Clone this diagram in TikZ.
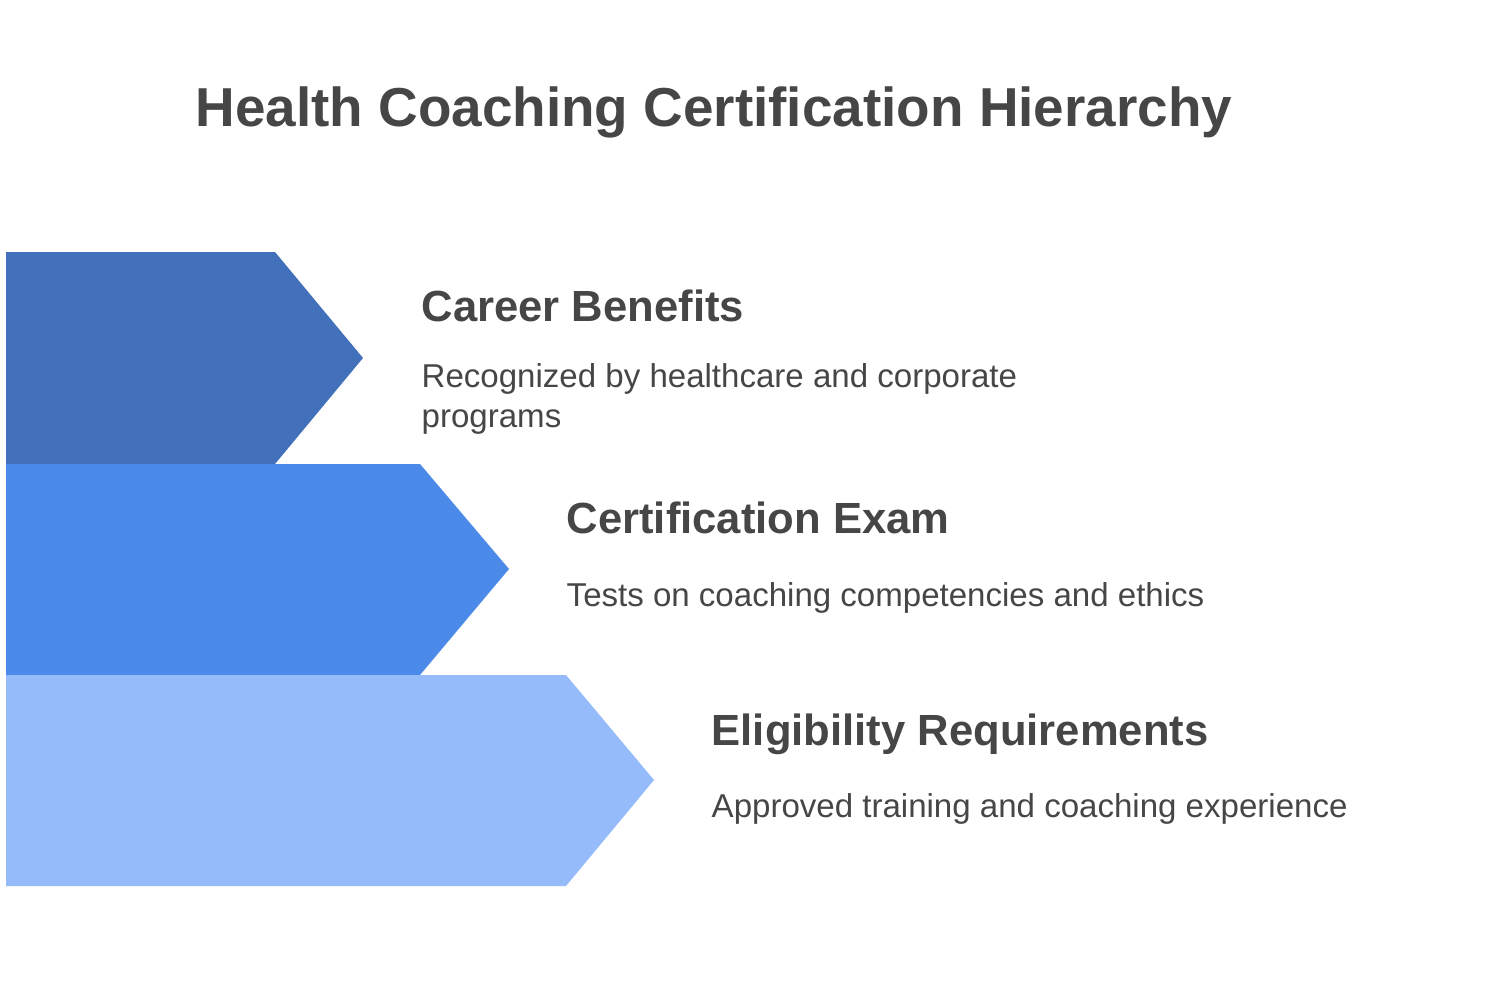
\documentclass[tikz,border=0pt]{standalone}
\usepackage{fontspec}
\setmainfont{Liberation Sans}
\definecolor{tierdark}{HTML}{4270BA}
\definecolor{tiermid}{HTML}{4B8AE8}
\definecolor{tierlight}{HTML}{95BBFB}
\definecolor{txtgray}{HTML}{464646}
\tikzset{
    heading/.style={anchor=base west, inner sep=0pt, text=txtgray, font=\fontsize{12.4}{15}\selectfont\bfseries},
    desc/.style={anchor=base west, inner sep=0pt, text=txtgray, align=left, font=\fontsize{9.4}{11.3}\selectfont},
}
\begin{document}
\begin{tikzpicture}[x=0.01cm, y=-0.01cm]
    \useasboundingbox (0,0) rectangle (1500,994);

    \fill[tierdark]  (6,252) -- (275,252) -- (363,358) -- (275,464) -- (6,464) -- cycle;
    \fill[tiermid]   (6,464) -- (420,464) -- (509,569) -- (420,675) -- (6,675) -- cycle;
    \fill[tierlight] (6,675) -- (566,675) -- (654,780) -- (566,886) -- (6,886) -- cycle;

    \node (title) at (195,127) [anchor=base west, inner sep=0pt, text=txtgray, font=\fontsize{15.6}{19}\selectfont\bfseries] {Health Coaching Certification Hierarchy};

    \node (benefits)     at (421,321) [heading] {Career Benefits};
    \node (benefitsdesc) at (421,427) [desc] {Recognized by healthcare and corporate\\programs};
    \node (exam)         at (566,533) [heading] {Certification Exam};
    \node (examdesc)     at (566,606) [desc] {Tests on coaching competencies and ethics};
    \node (elig)         at (711,745) [heading] {Eligibility Requirements};
    \node (eligdesc)     at (711,817) [desc] {Approved training and coaching experience};
\end{tikzpicture}
\end{document}
